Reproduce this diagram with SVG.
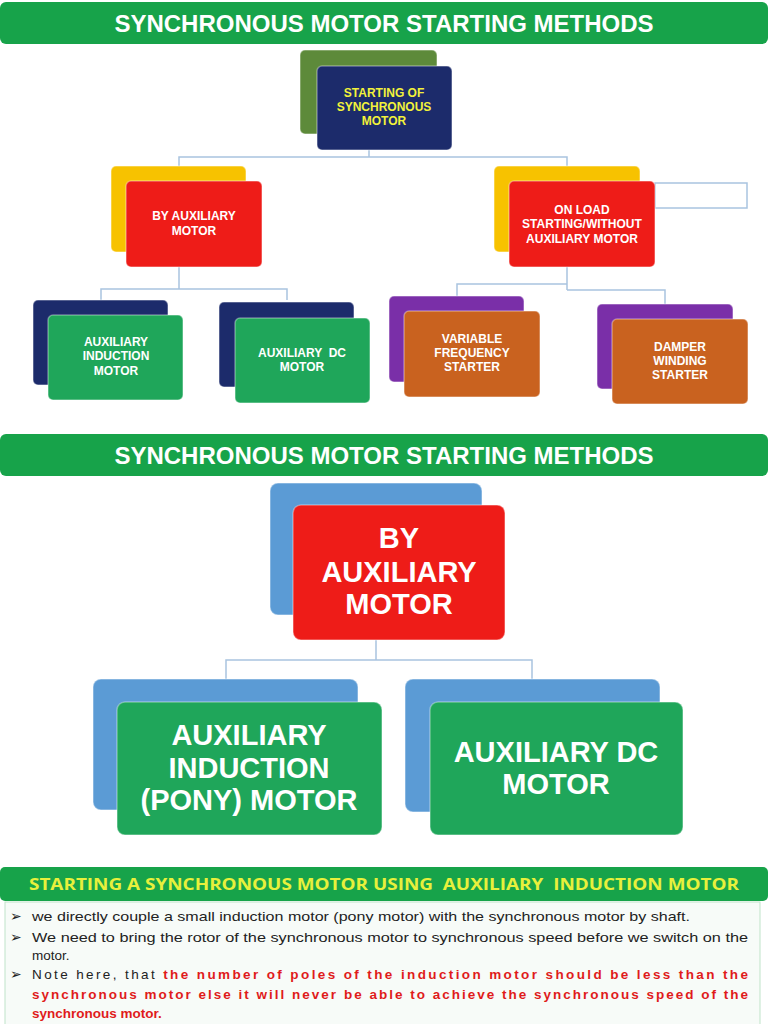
<svg xmlns="http://www.w3.org/2000/svg" width="768" height="1024" viewBox="0 0 768 1024">
<style>
.hdr{fill:#17a34a}
.ht{font-family:"Liberation Sans",Arial,sans-serif;font-weight:bold;font-size:24px;fill:#fff;text-anchor:middle}
.n{stroke:#ffffff;stroke-opacity:.35;stroke-width:1.5}
.t{font-family:"Liberation Sans",Arial,sans-serif;font-weight:bold;font-size:12px;fill:#fff;text-anchor:middle}
.y{fill:#f2f23a}
.big{font-size:29px}
.c{fill:none;stroke:#a9c4e0;stroke-width:1.5}
.b{font-family:"Liberation Sans",Arial,sans-serif;font-size:13.5px;fill:#222}
.r{fill:#e01b1b;font-weight:bold}
</style>
<rect width="768" height="1024" fill="#fff"/>
<g id="header1"><rect class="hdr" x="0" y="2" width="768" height="42" rx="6"/><text class="ht" x="384" y="32">SYNCHRONOUS MOTOR STARTING METHODS</text></g>
<g id="connectors">
<path class="c" d="M369 150V157M179 166V157H567V166"/>
<rect class="c" x="655" y="183" width="92" height="25"/>
<path class="c" d="M179 267V289M101 300V289H287V300"/>
<path class="c" d="M567 267V290M457 296V284H567M665 304V290H567"/>
<path class="c" d="M376 640V660M226 679V660H532V679"/>
</g>
<g id="top"><rect class="n" x="300" y="50" width="137" height="84" rx="5" fill="#5d8a3a"/><rect class="n" x="317" y="66" width="135" height="84" rx="5" fill="#1c2b6b"/>
<text class="t y" x="384" y="97">STARTING OF</text><text class="t y" x="384" y="111">SYNCHRONOUS</text><text class="t y" x="384" y="125">MOTOR</text></g>
<g id="byaux"><rect class="n" x="111" y="166" width="135" height="86" rx="5" fill="#f7c200"/><rect class="n" x="126" y="181" width="136" height="86" rx="5" fill="#ee1c18"/>
<text class="t" x="194" y="220">BY AUXILIARY</text><text class="t" x="194" y="235">MOTOR</text></g>
<g id="onload"><rect class="n" x="494" y="166" width="146" height="86" rx="5" fill="#f7c200"/><rect class="n" x="509" y="181" width="146" height="86" rx="5" fill="#ee1c18"/>
<text class="t" x="582" y="214">ON LOAD</text><text class="t" x="582" y="228">STARTING/WITHOUT</text><text class="t" x="582" y="243" font-size="11">AUXILIARY MOTOR</text></g>
<g id="auxind"><rect class="n" x="33" y="300" width="135" height="85" rx="5" fill="#1c2b6b"/><rect class="n" x="48" y="315" width="135" height="85" rx="5" fill="#1fa65a"/>
<text class="t" x="116" y="346">AUXILIARY</text><text class="t" x="116" y="360">INDUCTION</text><text class="t" x="116" y="375">MOTOR</text></g>
<g id="auxdc"><rect class="n" x="219" y="302" width="135" height="85" rx="5" fill="#1c2b6b"/><rect class="n" x="235" y="318" width="135" height="85" rx="5" fill="#1fa65a"/>
<text class="t" x="302" y="357" xml:space="preserve">AUXILIARY  DC</text><text class="t" x="302" y="371">MOTOR</text></g>
<g id="vfs"><rect class="n" x="389" y="296" width="135" height="86" rx="5" fill="#7a2fa8"/><rect class="n" x="404" y="311" width="136" height="86" rx="5" fill="#c9621f"/>
<text class="t" x="472" y="343">VARIABLE</text><text class="t" x="472" y="357">FREQUENCY</text><text class="t" x="472" y="371">STARTER</text></g>
<g id="damper"><rect class="n" x="597" y="304" width="136" height="85" rx="5" fill="#7a2fa8"/><rect class="n" x="612" y="319" width="136" height="85" rx="5" fill="#c9621f"/>
<text class="t" x="680" y="351">DAMPER</text><text class="t" x="680" y="365">WINDING</text><text class="t" x="680" y="379">STARTER</text></g>
<g id="header2"><rect class="hdr" x="0" y="434" width="768" height="42" rx="6"/><text class="ht" x="384" y="464">SYNCHRONOUS MOTOR STARTING METHODS</text></g>
<g id="bigbyaux"><rect class="n" x="270" y="483" width="212" height="132" rx="8" fill="#5b9bd5"/><rect class="n" x="293" y="505" width="212" height="135" rx="8" fill="#ee1c18"/>
<text class="t big" x="399" y="548">BY</text><text class="t big" x="399" y="582">AUXILIARY</text><text class="t big" x="399" y="614">MOTOR</text></g>
<g id="bigpony"><rect class="n" x="93" y="679" width="265" height="131" rx="8" fill="#5b9bd5"/><rect class="n" x="117" y="702" width="265" height="133" rx="8" fill="#1fa65a"/>
<text class="t big" x="249" y="745">AUXILIARY</text><text class="t big" x="249" y="778">INDUCTION</text><text class="t big" x="249" y="810">(PONY) MOTOR</text></g>
<g id="bigdc"><rect class="n" x="405" y="679" width="255" height="133" rx="8" fill="#5b9bd5"/><rect class="n" x="430" y="702" width="253" height="133" rx="8" fill="#1fa65a"/>
<text class="t big" x="556" y="762">AUXILIARY DC</text><text class="t big" x="556" y="794">MOTOR</text></g>
<g id="header3"><rect class="hdr" x="0" y="867" width="768" height="34" rx="5"/>
<text x="384" y="890" text-anchor="middle" font-family="'Open Sans','Liberation Sans',sans-serif" font-weight="bold" font-size="16.5" fill="#e8f03c" xml:space="preserve" textLength="710" lengthAdjust="spacingAndGlyphs">STARTING A SYNCHRONOUS MOTOR USING  AUXILIARY  INDUCTION MOTOR</text></g>
<g id="textbox"><rect x="5" y="902" width="755" height="130" fill="#f7fbf8" stroke="#bfe3c9"/>
<text class="b" x="10" y="921">➢</text><text class="b" x="32" y="921" textLength="658" lengthAdjust="spacingAndGlyphs">we directly couple a small induction motor (pony motor) with the synchronous motor by shaft.</text>
<text class="b" x="10" y="942">➢</text><text class="b" x="32" y="942" textLength="716" lengthAdjust="spacingAndGlyphs">We need to bring the rotor of the synchronous motor to synchronous speed before we switch on the</text>
<text class="b" x="32" y="960">motor.</text>
<text class="b" x="10" y="979">➢</text><text class="b" x="32" y="979" textLength="716" lengthAdjust="spacing">Note here, that <tspan class="r">the number of poles of the induction motor should be less than the</tspan></text>
<text class="b r" x="32" y="999" textLength="716" lengthAdjust="spacing">synchronous motor else it will never be able to achieve the synchronous speed of the</text>
<text class="b r" x="32" y="1018">synchronous motor.</text></g>
</svg>
